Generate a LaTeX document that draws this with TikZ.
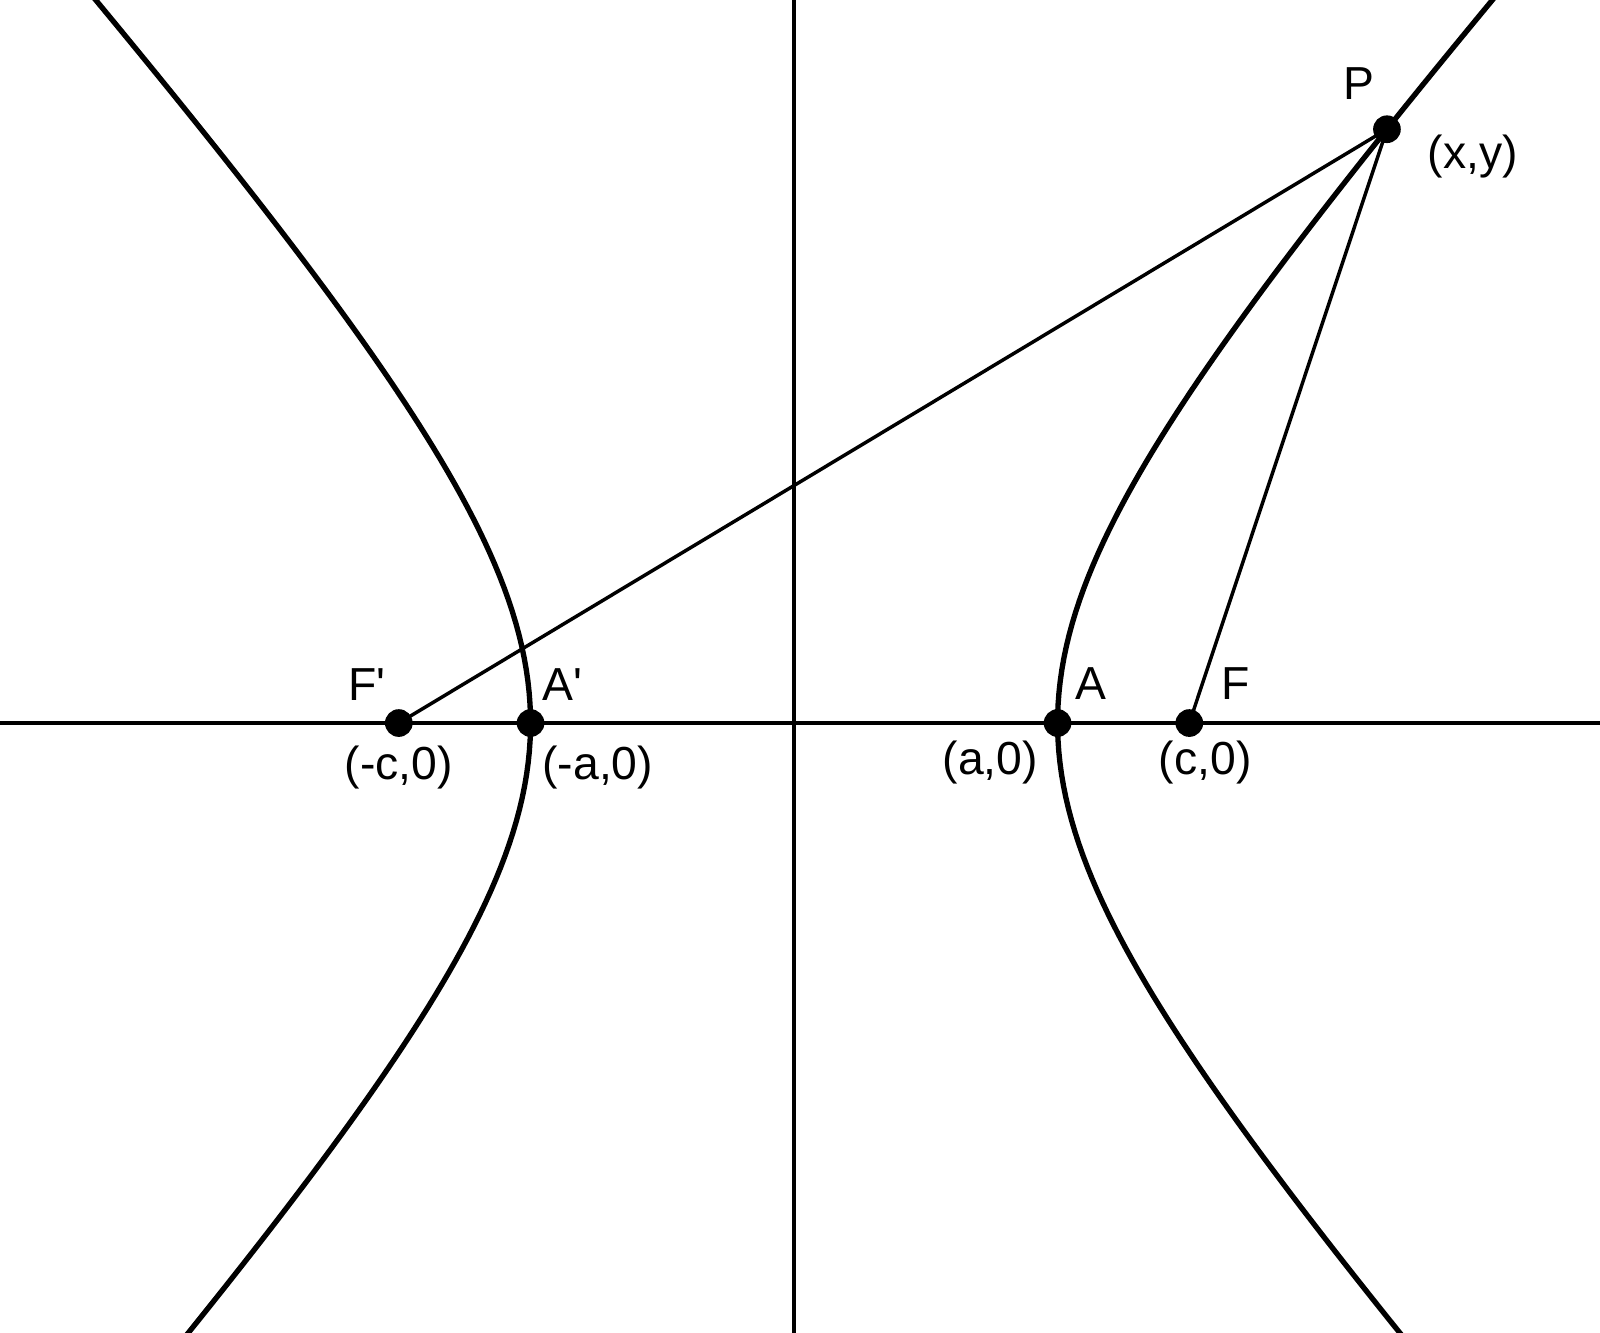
\documentclass[tikz,border=0pt]{standalone}
\usepackage{fontspec}
\setmainfont{Liberation Sans}[Ligatures=TeXOff]
\usepackage{tikz}
\usetikzlibrary{positioning}

\begin{document}
\begin{tikzpicture}[line width=0.75pt]
\useasboundingbox (-6.027,-4.622) rectangle (6.117,5.488);
\clip (-6.027,-4.622) rectangle (6.117,5.488);
\tikzstyle{every node} = [inner sep=0cm, font=\fontsize{10}{11}\selectfont]
% axes
\coordinate (xl) at (-6.1,0);
\coordinate (xr) at (6.2,0);
\coordinate (yb) at (0,-4.7);
\coordinate (yt) at (0,5.6);
\draw (xl) -- (xr);
\draw (yb) -- (yt);
% the two branches
\draw[line width=1.15pt, domain=-4.8:5.7, samples=120, variable=\t]
	plot ({2*sqrt(1+\t*\t/5)},\t)
	plot ({-2*sqrt(1+\t*\t/5)},\t);
\tikzstyle{every node} = [circle, fill=black, minimum size=0.21cm, inner sep=0cm]
\node (fl) at (-3,0) {};
\node (al) at (-2,0) {};
\node (ar) at (2,0) {};
\node (fr) at (3,0) {};
\node (p) at (4.5,4.507) {};
\draw (fl.center) -- (p.center);
\draw (fr.center) -- (p.center);
\tikzstyle{every node} = [inner sep=0cm, font=\fontsize{10}{11}\selectfont]
\node (pl) at (4.29,4.85) {P};
\node (pc) at (5.15,4.30) {(x,y)};
\node (fll) at (-3.24,0.29) {F'};
\node (flc) at (0-3,-0.335) {(-c,0)};
\node (all) at (-1.76,0.29) {A'};
\node (alc) at (-1.49,-0.335) {(-a,0)};
\node (arl) at (2.25,0.30) {A};
\node (arc) at (1.49,-0.30) {(a,0)};
\node (frl) at (3.35,0.30) {F};
\node (frc) at (3.12,-0.30) {(c,0)};
\end{tikzpicture}
\end{document}
